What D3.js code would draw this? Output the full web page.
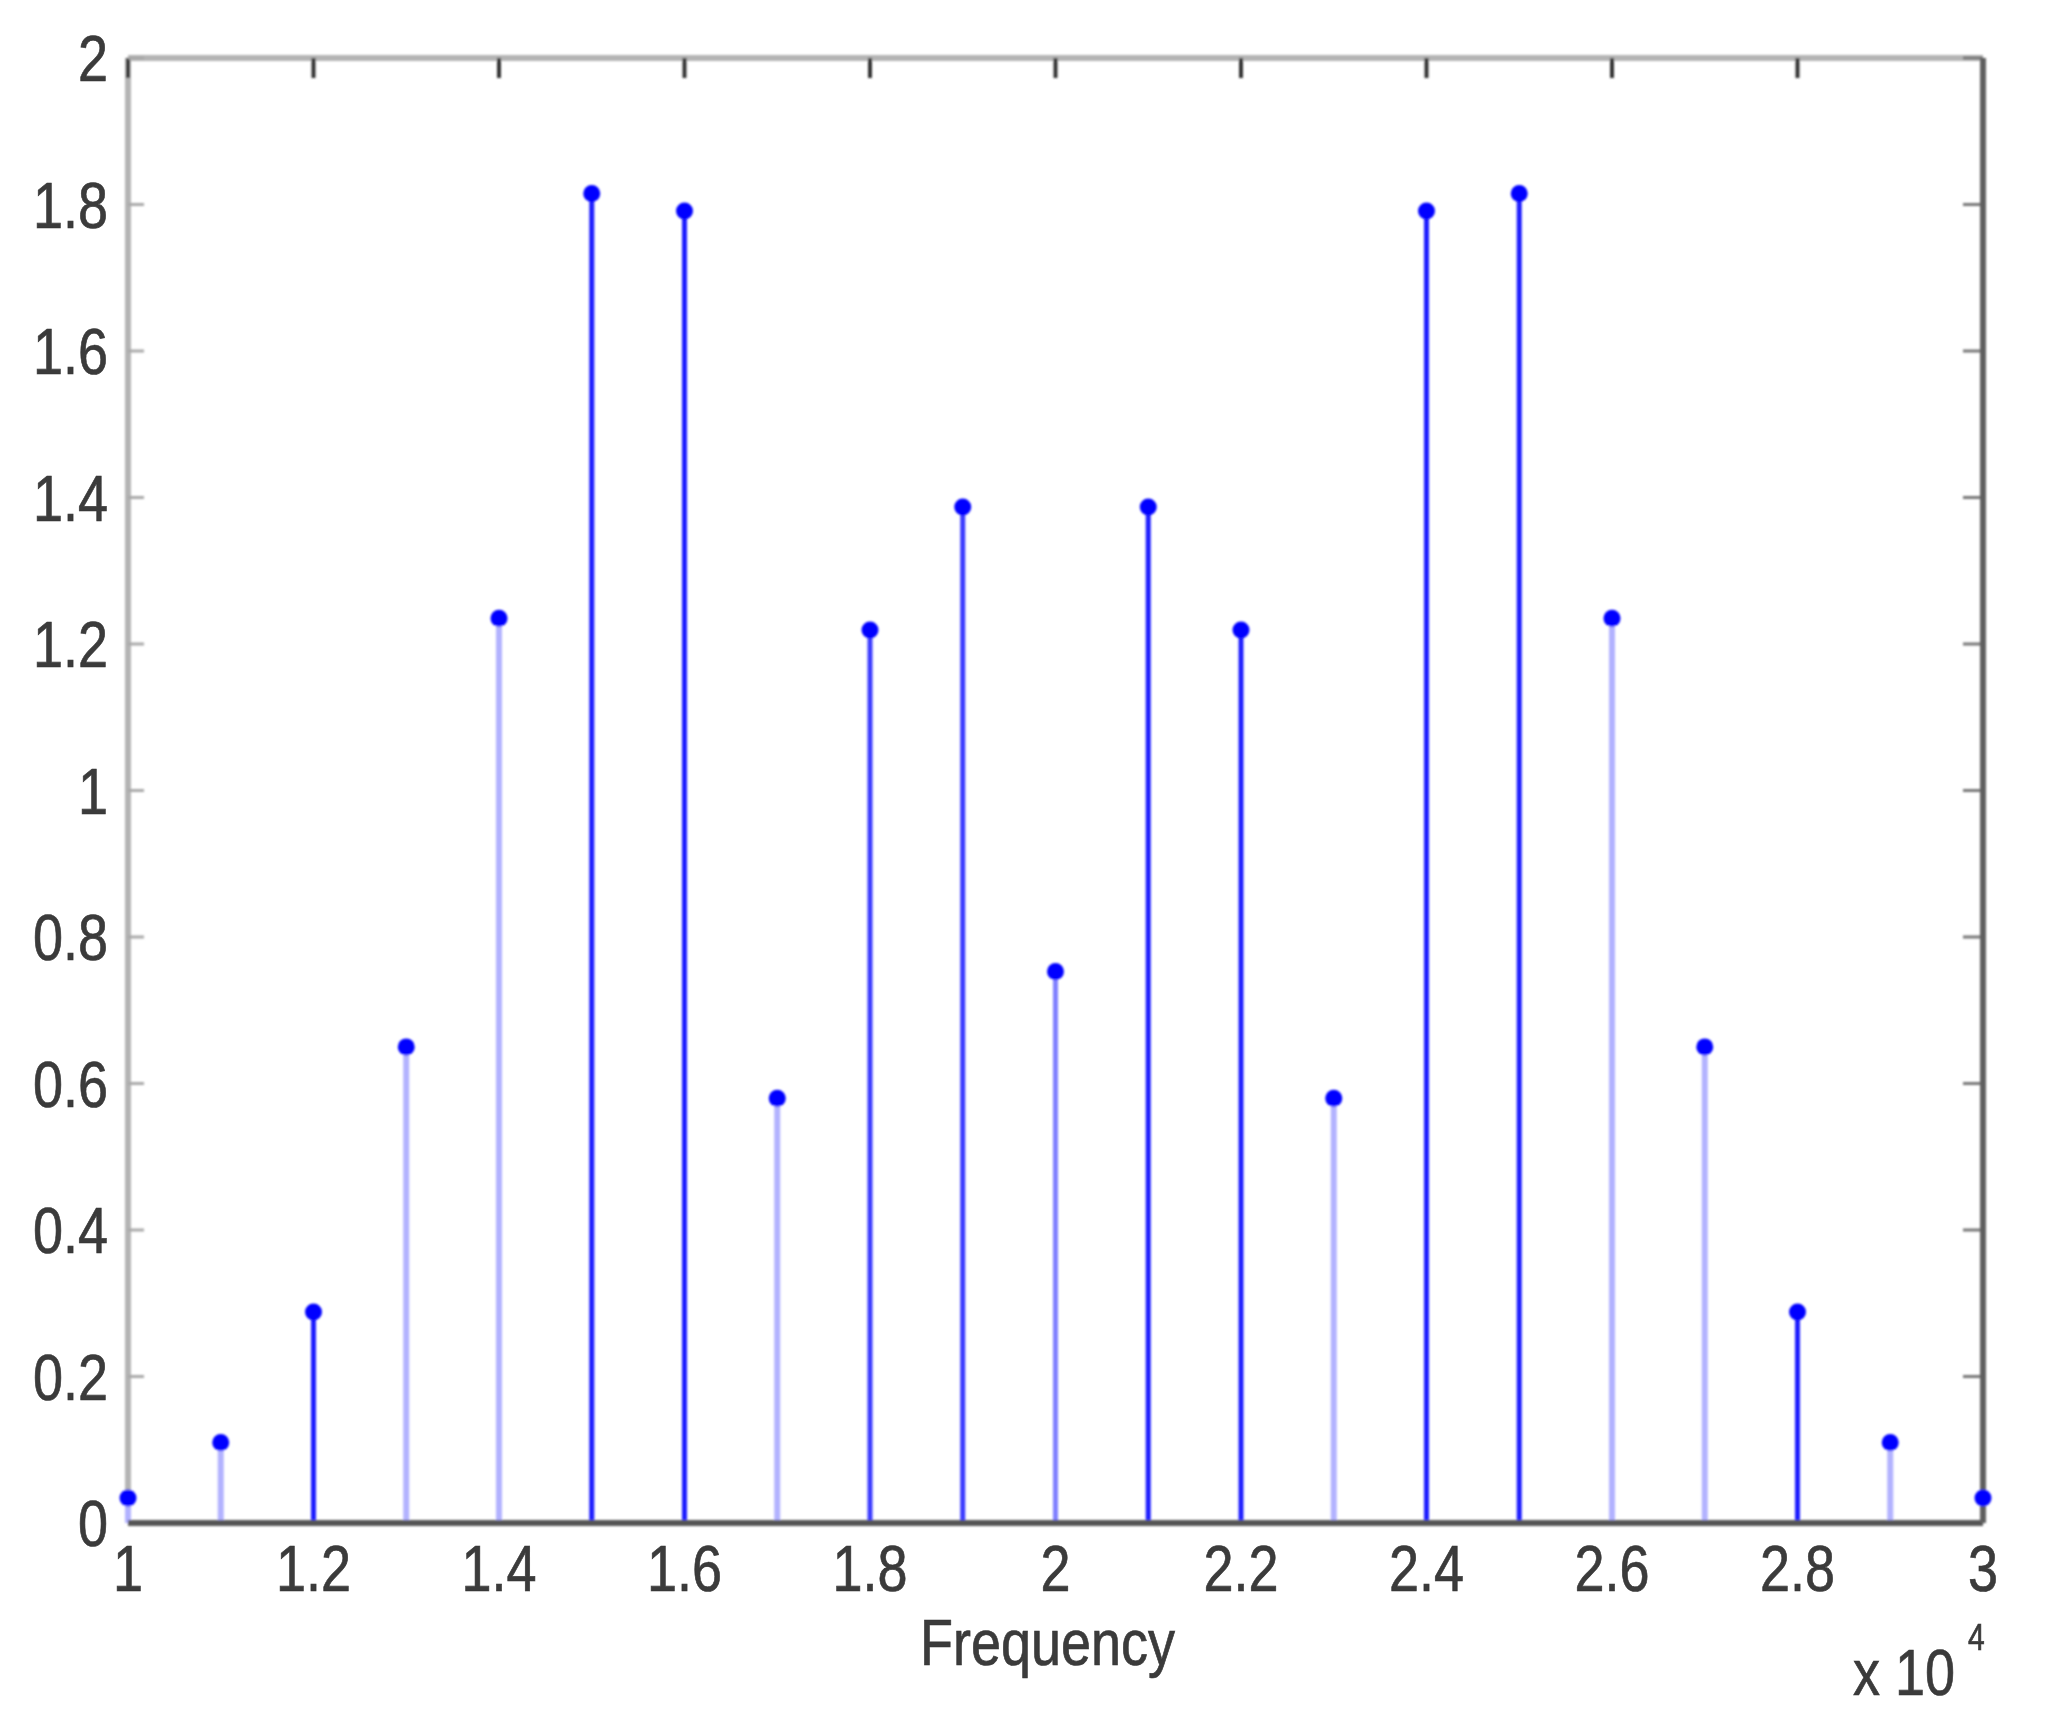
<!DOCTYPE html>
<html>
<head>
<meta charset="utf-8">
<script src="https://cdn.jsdelivr.net/npm/d3@7"></script>
<style>
  html, body { margin: 0; padding: 0; background: #fff; }
  svg { display: block; }
  text { font-family: "Liberation Sans", Arial, sans-serif; fill: #3a3a3a; stroke: #3a3a3a; stroke-width: 0.6px; }
</style>
</head>
<body>
<svg id="chart" width="2046" height="1714"></svg>
<script>
// ---- data ----
const frequencies = [10000, 11000, 12000, 13000, 14000, 15000, 16000, 17000, 18000, 19000, 20000,
                     21000, 22000, 23000, 24000, 25000, 26000, 27000, 28000, 29000, 30000];
const magnitudes  = [0.034, 0.110, 0.288, 0.650, 1.235, 1.815, 1.791, 0.580, 1.219, 1.387, 0.753,
                     1.387, 1.219, 0.580, 1.791, 1.815, 1.235, 0.650, 0.288, 0.110, 0.034];
// rendering tone of each stem in the reference (aliasing look)
const stemTone    = ["light","light","dark","light","light","dark","dark","light","mid","mid","pale",
                     "dark","dark","light","dark","dark","light","light","dark","light","light"];
const xTickValues = [10000, 12000, 14000, 16000, 18000, 20000, 22000, 24000, 26000, 28000, 30000];
const xTickLabels = ["1", "1.2", "1.4", "1.6", "1.8", "2", "2.2", "2.4", "2.6", "2.8", "3"];
const yTickValues = [0, 0.2, 0.4, 0.6, 0.8, 1, 1.2, 1.4, 1.6, 1.8, 2];
const yTickLabels = ["0", "0.2", "0.4", "0.6", "0.8", "1", "1.2", "1.4", "1.6", "1.8", "2"];
const xLabel = "Frequency";

// ---- layout ----
const L = 128, R = 1983, T = 58, B = 1523;
const x = d3.scaleLinear().domain([10000, 30000]).range([L, R]);
const y = d3.scaleLinear().domain([0, 2]).range([B, T]);
const toneColor = { dark: "#1e1eff", mid: "#3a3aff", pale: "#8080ff", light: "#b2b2ff" };
const toneWidth = { dark: 5, mid: 5, pale: 5, light: 6 };
const FS = 54, SY = 1.2;

const svg = d3.select("#chart");
const defs = svg.append("defs");
defs.append("filter").attr("id", "soft").attr("x", "-5%").attr("y", "-5%").attr("width", "110%").attr("height", "110%")
  .append("feGaussianBlur").attr("stdDeviation", 1.1);
defs.append("filter").attr("id", "softText")
  .append("feGaussianBlur").attr("stdDeviation", 0.7);

const g = svg.append("g").attr("filter", "url(#soft)");

// axes frame
g.append("line").attr("x1", L).attr("x2", R).attr("y1", T).attr("y2", T)
  .attr("stroke", "#b4b4b4").attr("stroke-width", 6);
g.append("line").attr("x1", L).attr("x2", L).attr("y1", T).attr("y2", B)
  .attr("stroke", "#b4b4b4").attr("stroke-width", 6);

// ticks
xTickValues.forEach(v => {
  g.append("line").attr("x1", x(v)).attr("x2", x(v)).attr("y1", T).attr("y2", T + 20)
    .attr("stroke", "#333").attr("stroke-width", 4);
  g.append("line").attr("x1", x(v)).attr("x2", x(v)).attr("y1", B).attr("y2", B - 20)
    .attr("stroke", "#333").attr("stroke-width", 4);
});
yTickValues.forEach(v => {
  g.append("line").attr("x1", L).attr("x2", L + 16).attr("y1", y(v)).attr("y2", y(v))
    .attr("stroke", "#a8a8a8").attr("stroke-width", 3);
  g.append("line").attr("x1", R).attr("x2", R - 20).attr("y1", y(v)).attr("y2", y(v))
    .attr("stroke", "#777").attr("stroke-width", 3);
});

// stems
g.selectAll(".stem").data(frequencies).enter().append("line")
  .attr("class", "stem")
  .attr("x1", d => x(d)).attr("x2", d => x(d))
  .attr("y1", y(0)).attr("y2", (d, i) => y(magnitudes[i]))
  .attr("stroke", (d, i) => toneColor[stemTone[i]])
  .attr("stroke-width", (d, i) => toneWidth[stemTone[i]]);

g.append("line").attr("x1", L).attr("x2", R).attr("y1", B).attr("y2", B)
  .attr("stroke", "#555").attr("stroke-width", 6);
g.append("line").attr("x1", R).attr("x2", R).attr("y1", T).attr("y2", B)
  .attr("stroke", "#5f5f5f").attr("stroke-width", 6);

// markers
g.selectAll(".mk").data(frequencies).enter().append("circle")
  .attr("class", "mk")
  .attr("cx", d => x(d)).attr("cy", (d, i) => y(magnitudes[i]))
  .attr("r", 8.5).attr("fill", "#0000ff");

// text
const tg = svg.append("g").attr("filter", "url(#softText)");
function txt(str, px, py, anchor, size) {
  return tg.append("text")
    .attr("transform", `translate(${px},${py}) scale(1,${SY})`)
    .attr("text-anchor", anchor)
    .style("font-size", size + "px")
    .text(str);
}
xTickValues.forEach((v, i) => txt(xTickLabels[i], x(v), 1591, "middle", FS));
yTickValues.forEach((v, i) => txt(yTickLabels[i], 108, y(v) + 23, "end", FS));
txt(xLabel, (L + R) / 2 - 8, 1665, "middle", FS);
txt("x 10", 1853, 1695, "start", FS);
txt("4", 1968, 1650, "start", 30);
</script>
</body>
</html>
